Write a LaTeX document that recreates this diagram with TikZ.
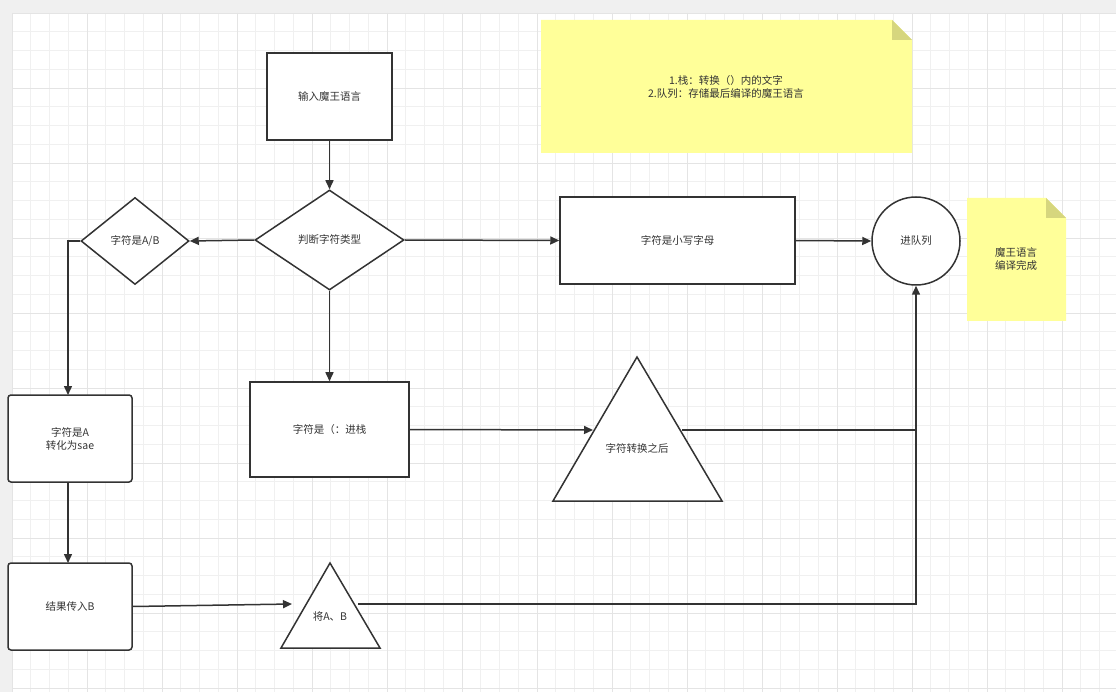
\documentclass[tikz,border=0pt]{standalone}
\usepackage{fontspec}
\setmainfont{Noto Sans CJK SC}
\usetikzlibrary{arrows.meta,shapes.geometric}
\definecolor{ln}{HTML}{333333}
\definecolor{gmin}{HTML}{F0F0F0}
\definecolor{gmaj}{HTML}{E4E4E4}
\definecolor{note}{HTML}{FFFF99}
\definecolor{fold}{HTML}{D6D67E}
\begin{document}
\begin{tikzpicture}[x=1pt,y=-1pt,
  every node/.style={text=ln,font=\fontsize{10.5}{13}\selectfont,align=center},
  box/.style={draw=ln,line width=1.5pt,fill=white,inner sep=0pt},
  arr/.style={draw=ln,line width=1.5pt,-{Triangle[length=9pt,width=8pt]}},
  ln2/.style={draw=ln,line width=1.5pt}]
\useasboundingbox (0,0) rectangle (1116,692);
\fill[gray!12] (0,0) rectangle (1116,692);
\fill[white] (12,13) rectangle (1116,692);
\foreach \i in {0,...,59} {\draw[gmin,line width=0.7pt] (12+\i*18.75,13) -- (12+\i*18.75,692);}
\foreach \i in {0,...,37} {\draw[gmin,line width=0.7pt] (12,13+\i*18.75) -- (1116,13+\i*18.75);}
\foreach \i in {0,...,14} {\draw[gmaj,line width=0.8pt] (12+\i*75,13) -- (12+\i*75,692);}
\foreach \i in {0,...,9} {\draw[gmaj,line width=0.8pt] (12,13+\i*75) -- (1116,13+\i*75);}
% notes
\fill[note] (541,20) -- (892,20) -- (912,40) -- (912,153) -- (541,153) -- cycle;
\fill[fold] (892,20) -- (912,40) -- (892,40) -- cycle;
\node (n1) at (726,87) {1.栈：转换（）内的文字\\2.队列：存储最后编译的魔王语言};
\fill[note] (967,198) -- (1046,198) -- (1066,218) -- (1066,321) -- (967,321) -- cycle;
\fill[fold] (1046,198) -- (1066,218) -- (1046,218) -- cycle;
\node (n2) at (1016,259) {魔王语言\\编译完成};
% nodes
\node[box,minimum width=125pt,minimum height=87pt] (in) at (329.5,96.5) {输入魔王语言};
\node[box,diamond,minimum width=149pt,minimum height=100pt] (jd) at (329.5,240) {判断字符类型};
\node[box,diamond,minimum width=108pt,minimum height=87pt] (ab) at (135,241) {字符是A/B};
\node[box,minimum width=235pt,minimum height=87pt] (lw) at (677.5,240.5) {字符是小写字母};
\node[box,circle,minimum size=88pt] (q) at (916,241) {进队列};
\node[box,minimum width=159pt,minimum height=95pt] (st) at (329.5,429.5) {字符是（：进栈};
\node[box,rounded corners=3pt,minimum width=124pt,minimum height=87pt] (a) at (70,438.5) {字符是A\\转化为sae};
\node[box,rounded corners=3pt,minimum width=124pt,minimum height=87pt] (b) at (70,606.5) {结果传入B};
\draw[box] (637,357) -- (722,501) -- (553,501) -- cycle;
\node (t1) at (637,448) {字符转换之后};
\draw[box] (330,563) -- (380,648) -- (281,648) -- cycle;
\node (t2) at (330,617) {将A、B};
\coordinate (t1l) at (593,430); \coordinate (t1r) at (682,430);
\coordinate (t2l) at (292,604); \coordinate (t2r) at (358,604);
\coordinate (j1) at (916,430); \coordinate (j2) at (916,604);
% connectors
\draw[arr] (in.south) -- (jd.north);
\draw[arr] (jd.west) -- (ab.east);
\draw[arr] (jd.east) -- (lw.west);
\draw[arr] (lw.east) -- (q.west);
\draw[arr] (jd.south) -- (st.north);
\draw[arr] (ab.west) -- (68,241) -- (68,395);
\draw[arr] (a.south -| 68,0) -- (68,563);
\draw[arr] (b.east) -- (t2l);
\draw[arr] (st.east) -- (t1l);
\draw[ln2] (t1r) -- (j1);
\draw[ln2] (t2r) -- (j2) -- (j1);
\draw[arr] (j1) -- (q.south);
\end{tikzpicture}
\end{document}
